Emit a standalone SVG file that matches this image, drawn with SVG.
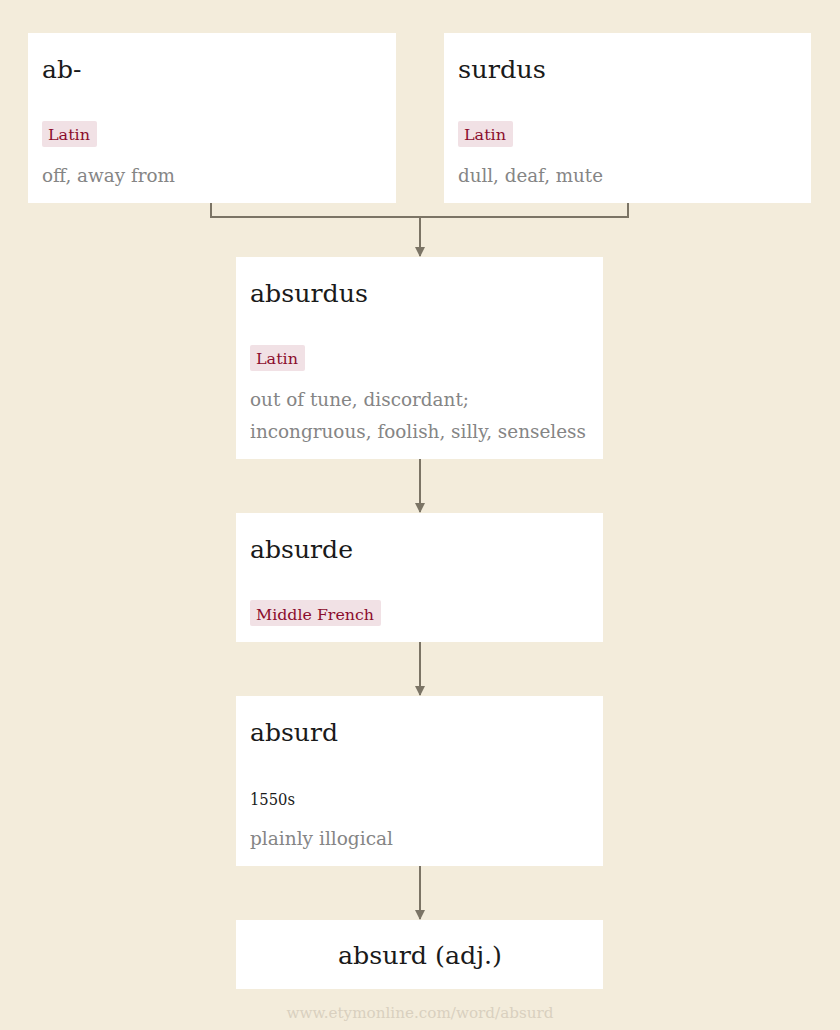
<svg xmlns="http://www.w3.org/2000/svg" width="840" height="1030" viewBox="0 0 840 1030">
<defs>
<marker id="arr" viewBox="0 0 10 10" refX="9" refY="5" markerWidth="11" markerHeight="10" orient="auto" markerUnits="userSpaceOnUse">
<path d="M0,0 L10,5 L0,10 z" fill="#7b7465"/>
</marker>
<style>
.box{fill:#ffffff}
.title{font-family:"DejaVu Serif","Liberation Serif",serif;font-size:25px;fill:#1a1a1a}
.badge{fill:#f1e1e5}
.lang{font-family:"DejaVu Serif","Liberation Serif",serif;font-size:15px;fill:#8b0c2c}
.gloss{font-family:"DejaVu Serif","Liberation Serif",serif;font-size:18px;fill:#858585}
.date{font-family:"DejaVu Serif","Liberation Serif",serif;font-size:16px;fill:#1a1a1a}
.edge{fill:none;stroke:#7b7465;stroke-width:2}
.foot{font-family:"DejaVu Serif","Liberation Serif",serif;font-size:14px;fill:#d9d0bf}
</style>
</defs>
<rect width="840" height="1030" fill="#f3ecdb"/>
<g id="connectors">
<path class="edge" d="M211,203 V217 H628 V203"/>
<path class="edge" d="M420,217 V256" marker-end="url(#arr)"/>
<path class="edge" d="M420,459 V512" marker-end="url(#arr)"/>
<path class="edge" d="M420,642 V695" marker-end="url(#arr)"/>
<path class="edge" d="M420,866 V919" marker-end="url(#arr)"/>
</g>
<g id="node-ab">
<rect class="box" x="28" y="33" width="368" height="170"/>
<text class="title" x="42" y="78">ab-</text>
<rect class="badge" x="42" y="121" width="55" height="26" rx="2"/>
<text class="lang" x="48" y="140" textLength="42" lengthAdjust="spacingAndGlyphs">Latin</text>
<text class="gloss" x="42" y="182" textLength="133" lengthAdjust="spacingAndGlyphs">off, away from</text>
</g>
<g id="node-surdus">
<rect class="box" x="444" y="33" width="367" height="170"/>
<text class="title" x="458" y="78" textLength="88" lengthAdjust="spacingAndGlyphs">surdus</text>
<rect class="badge" x="458" y="121" width="55" height="26" rx="2"/>
<text class="lang" x="464" y="140" textLength="42" lengthAdjust="spacingAndGlyphs">Latin</text>
<text class="gloss" x="458" y="182" textLength="145" lengthAdjust="spacingAndGlyphs">dull, deaf, mute</text>
</g>
<g id="node-absurdus">
<rect class="box" x="236" y="257" width="367" height="202"/>
<text class="title" x="250" y="302" textLength="118" lengthAdjust="spacingAndGlyphs">absurdus</text>
<rect class="badge" x="250" y="345" width="55" height="26" rx="2"/>
<text class="lang" x="256" y="364" textLength="42" lengthAdjust="spacingAndGlyphs">Latin</text>
<text class="gloss" x="250" y="406" textLength="219" lengthAdjust="spacingAndGlyphs">out of tune, discordant;</text>
<text class="gloss" x="250" y="438" textLength="336" lengthAdjust="spacingAndGlyphs">incongruous, foolish, silly, senseless</text>
</g>
<g id="node-absurde">
<rect class="box" x="236" y="513" width="367" height="129"/>
<text class="title" x="250" y="558" textLength="103" lengthAdjust="spacingAndGlyphs">absurde</text>
<rect class="badge" x="250" y="600" width="131" height="26" rx="2"/>
<text class="lang" x="256" y="620" textLength="118" lengthAdjust="spacingAndGlyphs">Middle French</text>
</g>
<g id="node-absurd">
<rect class="box" x="236" y="696" width="367" height="170"/>
<text class="title" x="250" y="741" textLength="88" lengthAdjust="spacingAndGlyphs">absurd</text>
<text class="date" x="250" y="805" textLength="45" lengthAdjust="spacingAndGlyphs">1550s</text>
<text class="gloss" x="250" y="845" textLength="143" lengthAdjust="spacingAndGlyphs">plainly illogical</text>
</g>
<g id="node-absurd-adj">
<rect class="box" x="236" y="920" width="367" height="69"/>
<text class="title" x="420" y="964" text-anchor="middle" textLength="164" lengthAdjust="spacingAndGlyphs">absurd (adj.)</text>
</g>
<text class="foot" x="420" y="1018" text-anchor="middle" textLength="267" lengthAdjust="spacingAndGlyphs">www.etymonline.com/word/absurd</text>
</svg>
